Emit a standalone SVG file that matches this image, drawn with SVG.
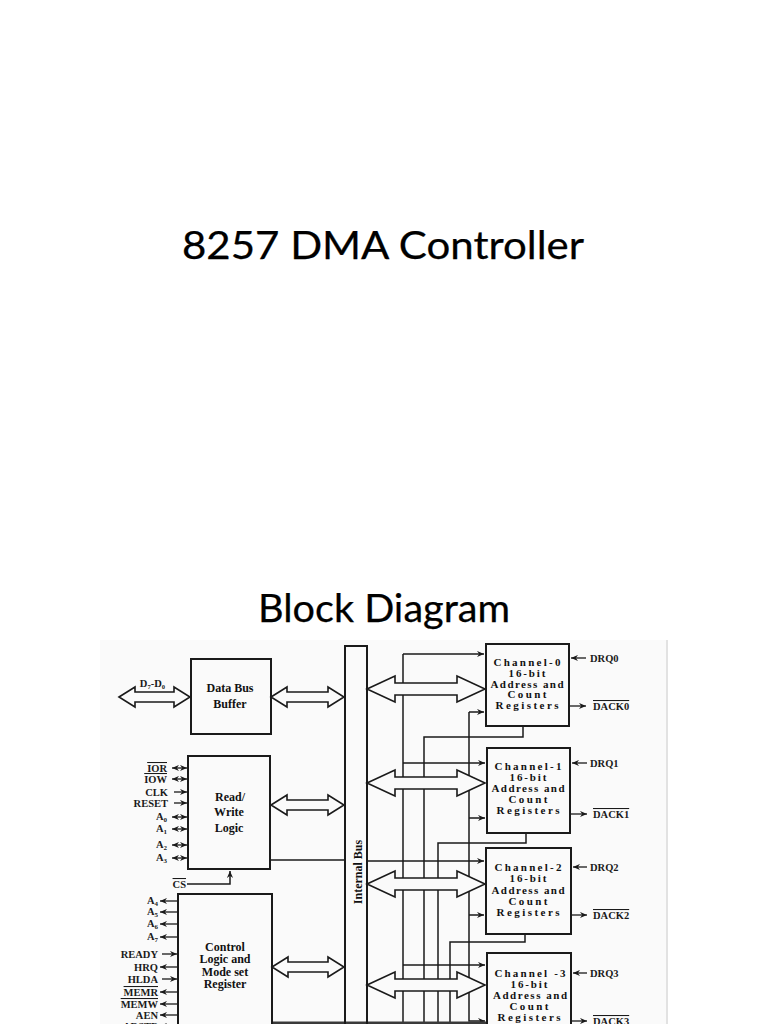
<svg xmlns="http://www.w3.org/2000/svg" width="768" height="1024" viewBox="0 0 768 1024">
<style>
.title{font-family:Lato,"Open Sans","Liberation Sans",sans-serif;font-size:38px;fill:#000;stroke:#000;stroke-width:0.25;text-anchor:middle}
.box{fill:none;stroke:#1a1a1a;stroke-width:2}
.bt{font-family:"Liberation Serif",serif;font-weight:bold;font-size:12px;fill:#111;text-anchor:middle}
.ct{font-family:"Liberation Serif",serif;font-weight:bold;font-size:11px;fill:#111;text-anchor:middle}
.pin{font-family:"Liberation Serif",serif;font-weight:bold;font-size:10.5px;fill:#1a1a1a;text-anchor:end}
.pinr{font-family:"Liberation Serif",serif;font-weight:bold;font-size:10.5px;fill:#1a1a1a;text-anchor:start}
.ov{text-decoration:overline}
.w{fill:none;stroke:#1a1a1a;stroke-width:1.5}
.pw{fill:none;stroke:#1a1a1a;stroke-width:1.3}
.ha{fill:#fafafa;stroke:#1a1a1a;stroke-width:1.6;stroke-linejoin:miter}
</style>
<defs>
<marker id="ah" viewBox="0 0 8 8" refX="8" refY="4" markerWidth="7" markerHeight="7" markerUnits="userSpaceOnUse" orient="auto-start-reverse">
<path d="M0,0.5 L8,4 L0,7.5 L2.5,4 z" fill="#1a1a1a"/>
</marker>
</defs>
<rect x="0" y="0" width="768" height="1024" fill="#ffffff"/>
<rect x="100" y="640" width="567" height="384" fill="#fafafa"/>
<line x1="667" y1="640" x2="667" y2="1024" stroke="#e2e2e2" stroke-width="2"/>

<g id="titles">
<text class="title" x="383" y="259" textLength="402" lengthAdjust="spacingAndGlyphs">8257 DMA Controller</text>
<text class="title" x="384" y="622" textLength="252" lengthAdjust="spacingAndGlyphs">Block Diagram</text>
</g>

<g id="connectors">
<path class="w" d="M403,654 H484" marker-end="url(#ah)"/>
<path class="w" d="M403,654 V1024"/>
<path class="w" d="M403,763 H485" marker-end="url(#ah)"/>
<path class="w" d="M403,965 H485" marker-end="url(#ah)"/>
<path class="w" d="M270,860 H345"/>
<path class="w" d="M367,861 H484" marker-end="url(#ah)"/>
<path class="w" d="M523,726 V737 H424 V1024"/>
<path class="w" d="M526,833 V843 H438 V1024"/>
<path class="w" d="M525,934 V942 H450 V1024"/>
<path class="w" d="M469,712 H484" marker-end="url(#ah)"/>
<path class="w" d="M469,712 V1021 H485" marker-end="url(#ah)"/>
<path class="w" d="M469,818 H485" marker-end="url(#ah)"/>
<path class="w" d="M469,915 H484" marker-end="url(#ah)"/>
<path class="w" d="M187,884 H230 V871" marker-end="url(#ah)"/>
<path d="M272,1023 H486" stroke="#3a3a3a" stroke-width="3" fill="none"/>
<polygon class="ha" points="119,697 135,687 135,692 174,692 174,687 190,697 174,707 174,702 135,702 135,707"/>
<polygon class="ha" points="271,697 287,687 287,692 328,692 328,687 344,697 328,707 328,702 287,702 287,707"/>
<polygon class="ha" points="271,805 287,795 287,800 328,800 328,795 344,805 328,815 328,810 287,810 287,815"/>
<polygon class="ha" points="272,967 288,957 288,962 328,962 328,957 344,967 328,977 328,972 288,972 288,977"/>
<polygon class="ha" points="367,689 395,676 395,683 457,683 457,676 485,689 457,702 457,695 395,695 395,702"/>
<polygon class="ha" points="367,783 395,770 395,777 457,777 457,770 485,783 457,796 457,789 395,789 395,796"/>
<polygon class="ha" points="367,884 395,871 395,878 457,878 457,871 485,884 457,897 457,890 395,890 395,897"/>
<polygon class="ha" points="367,985 395,972 395,979 457,979 457,972 485,985 457,998 457,991 395,991 395,998"/>
</g>

<g id="pins">
<text class="pin" x="165" y="687" font-size="10">D<tspan font-size="6.5" dy="2">7</tspan><tspan dy="-2">-D</tspan><tspan font-size="6.5" dy="2">0</tspan></text>
<path class="pw" d="M172,768 H187" marker-start="url(#ah)" marker-end="url(#ah)"/>
<text class="pin ov" x="167" y="772">IOR</text>
<path class="pw" d="M172,779 H187" marker-start="url(#ah)" marker-end="url(#ah)"/>
<text class="pin ov" x="167" y="783">IOW</text>
<path class="pw" d="M174,792 H187" marker-end="url(#ah)"/>
<text class="pin" x="168" y="796">CLK</text>
<path class="pw" d="M174,803 H187" marker-end="url(#ah)"/>
<text class="pin" x="168" y="807">RESET</text>
<path class="pw" d="M172,817 H187" marker-start="url(#ah)" marker-end="url(#ah)"/>
<text class="pin" x="167" y="820">A<tspan font-size="7" dy="2">0</tspan></text>
<path class="pw" d="M172,829 H187" marker-start="url(#ah)" marker-end="url(#ah)"/>
<text class="pin" x="167" y="832">A<tspan font-size="7" dy="2">1</tspan></text>
<path class="pw" d="M172,845 H187" marker-start="url(#ah)" marker-end="url(#ah)"/>
<text class="pin" x="167" y="848">A<tspan font-size="7" dy="2">2</tspan></text>
<path class="pw" d="M172,858 H187" marker-start="url(#ah)" marker-end="url(#ah)"/>
<text class="pin" x="167" y="861">A<tspan font-size="7" dy="2">3</tspan></text>
<text class="pin ov" x="186" y="888">CS</text>

<path class="pw" d="M177,901 H160" marker-end="url(#ah)"/>
<text class="pin" x="158" y="904">A<tspan font-size="7" dy="2">4</tspan></text>
<path class="pw" d="M177,912 H160" marker-end="url(#ah)"/>
<text class="pin" x="158" y="915">A<tspan font-size="7" dy="2">5</tspan></text>
<path class="pw" d="M177,924 H160" marker-end="url(#ah)"/>
<text class="pin" x="158" y="927">A<tspan font-size="7" dy="2">6</tspan></text>
<path class="pw" d="M177,937 H160" marker-end="url(#ah)"/>
<text class="pin" x="158" y="940">A<tspan font-size="7" dy="2">7</tspan></text>
<path class="pw" d="M162,954 H177" marker-end="url(#ah)"/>
<text class="pin" x="158" y="958">READY</text>
<path class="pw" d="M177,967 H160" marker-end="url(#ah)"/>
<text class="pin" x="158" y="971">HRQ</text>
<path class="pw" d="M162,979 H177" marker-end="url(#ah)"/>
<text class="pin" x="158" y="983">HLDA</text>
<path class="pw" d="M177,992 H160" marker-end="url(#ah)"/>
<text class="pin ov" x="158" y="996">MEMR</text>
<path class="pw" d="M177,1004 H160" marker-end="url(#ah)"/>
<text class="pin ov" x="158" y="1008">MEMW</text>
<path class="pw" d="M177,1015 H160" marker-end="url(#ah)"/>
<text class="pin" x="158" y="1019">AEN</text>
<path class="pw" d="M177,1026 H160" marker-end="url(#ah)"/>
<text class="pin" x="158" y="1030">ADSTB</text>

<path class="pw" d="M586,658 H571" marker-end="url(#ah)"/>
<text class="pinr" x="590" y="662">DRQ0</text>
<path class="pw" d="M570,706 H586" marker-end="url(#ah)"/>
<text class="pinr ov" x="593" y="710">DACK0</text>
<path class="pw" d="M587,763 H572" marker-end="url(#ah)"/>
<text class="pinr" x="590" y="767">DRQ1</text>
<path class="pw" d="M571,814 H587" marker-end="url(#ah)"/>
<text class="pinr ov" x="593" y="818">DACK1</text>
<path class="pw" d="M587,867 H573" marker-end="url(#ah)"/>
<text class="pinr" x="590" y="871">DRQ2</text>
<path class="pw" d="M572,915 H587" marker-end="url(#ah)"/>
<text class="pinr ov" x="593" y="919">DACK2</text>
<path class="pw" d="M587,973 H573" marker-end="url(#ah)"/>
<text class="pinr" x="590" y="977">DRQ3</text>
<path class="pw" d="M572,1021 H587" marker-end="url(#ah)"/>
<text class="pinr ov" x="593" y="1025">DACK3</text>
</g>

<g id="data-bus-buffer">
<rect class="box" x="191" y="659" width="80" height="75"/>
<text class="bt" x="230" y="692">Data Bus</text>
<text class="bt" x="230" y="708">Buffer</text>
</g>

<g id="read-write-logic">
<rect class="box" x="188" y="756" width="82" height="113"/>
<text class="bt" x="230" y="801">Read/</text>
<text class="bt" x="229" y="816">Write</text>
<text class="bt" x="229" y="832">Logic</text>
</g>

<g id="control-logic">
<rect class="box" x="178" y="894" width="94" height="150"/>
<text class="bt" x="225" y="951">Control</text>
<text class="bt" x="225" y="963">Logic and</text>
<text class="bt" x="225" y="976">Mode set</text>
<text class="bt" x="225" y="988">Register</text>
</g>

<g id="internal-bus">
<rect class="box" x="345" y="646" width="22" height="400"/>
<text class="bt" transform="translate(362,872) rotate(-90)" font-size="11.5">Internal Bus</text>
</g>

<g id="channel-0">
<rect class="box" x="486" y="644" width="83" height="82"/>
<text class="ct" x="527" y="666" textLength="67" lengthAdjust="spacing">Channel-0</text>
<text class="ct" x="527" y="677" textLength="37" lengthAdjust="spacing">16-bit</text>
<text class="ct" x="527" y="688" textLength="73" lengthAdjust="spacing">Address and</text>
<text class="ct" x="527" y="698" textLength="39" lengthAdjust="spacing">Count</text>
<text class="ct" x="527" y="709" textLength="63" lengthAdjust="spacing">Registers</text>
</g>

<g id="channel-1">
<rect class="box" x="487" y="748" width="83" height="85"/>
<text class="ct" x="528" y="770" textLength="67" lengthAdjust="spacing">Channel-1</text>
<text class="ct" x="528" y="781" textLength="37" lengthAdjust="spacing">16-bit</text>
<text class="ct" x="528" y="792" textLength="73" lengthAdjust="spacing">Address and</text>
<text class="ct" x="528" y="803" textLength="39" lengthAdjust="spacing">Count</text>
<text class="ct" x="528" y="814" textLength="63" lengthAdjust="spacing">Registers</text>
</g>

<g id="channel-2">
<rect class="box" x="486" y="848" width="85" height="86"/>
<text class="ct" x="528" y="871" textLength="67" lengthAdjust="spacing">Channel-2</text>
<text class="ct" x="528" y="882" textLength="37" lengthAdjust="spacing">16-bit</text>
<text class="ct" x="528" y="894" textLength="73" lengthAdjust="spacing">Address and</text>
<text class="ct" x="528" y="905" textLength="39" lengthAdjust="spacing">Count</text>
<text class="ct" x="528" y="916" textLength="63" lengthAdjust="spacing">Registers</text>
</g>

<g id="channel-3">
<rect class="box" x="487" y="953" width="84" height="90"/>
<text class="ct" x="530" y="977" textLength="71" lengthAdjust="spacing">Channel -3</text>
<text class="ct" x="529" y="988" textLength="37" lengthAdjust="spacing">16-bit</text>
<text class="ct" x="530" y="999" textLength="74" lengthAdjust="spacing">Address and</text>
<text class="ct" x="529" y="1010" textLength="39" lengthAdjust="spacing">Count</text>
<text class="ct" x="529" y="1021" textLength="63" lengthAdjust="spacing">Registers</text>
</g>
</svg>
